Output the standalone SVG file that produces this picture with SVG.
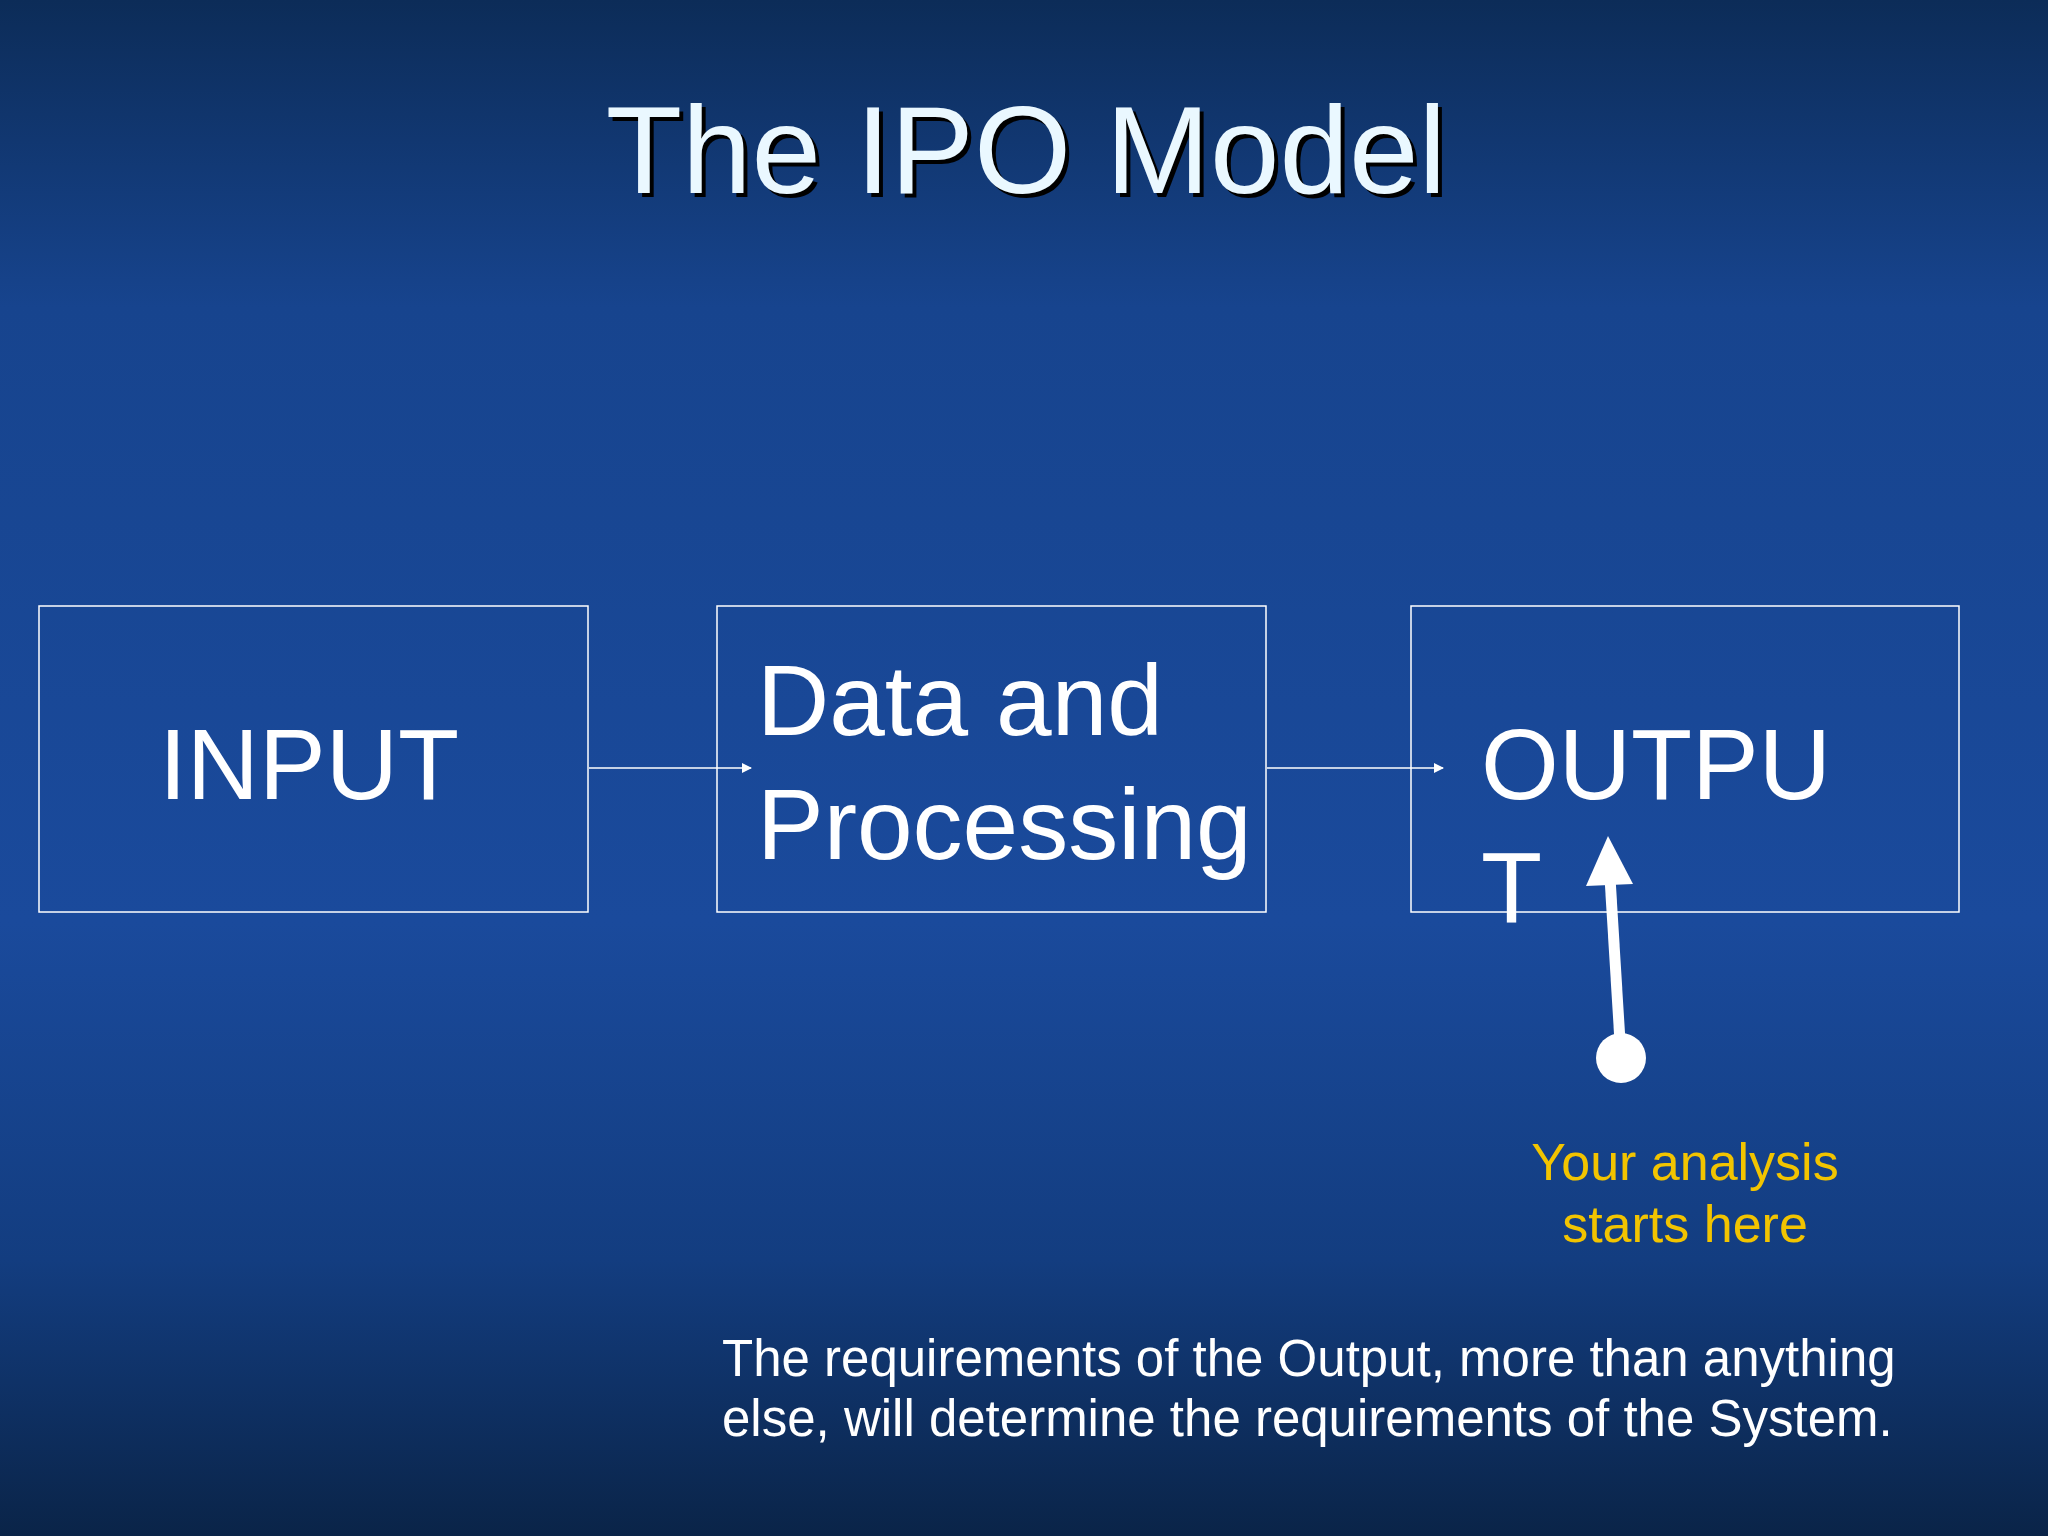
<svg xmlns="http://www.w3.org/2000/svg" width="2048" height="1536" viewBox="0 0 2048 1536">
<defs>
<linearGradient id="bg" x1="0" y1="0" x2="0" y2="1">
<stop offset="0" stop-color="#0c2c58"/>
<stop offset="0.2" stop-color="#17448e"/>
<stop offset="0.6" stop-color="#1a4a9c"/>
<stop offset="0.82" stop-color="#133d80"/>
<stop offset="1" stop-color="#0a2448"/>
</linearGradient>
<marker id="ah" viewBox="0 0 10 10" refX="9" refY="5" markerWidth="10" markerHeight="10" markerUnits="userSpaceOnUse" orient="auto"><path d="M0,0 L10,5 L0,10 z" fill="#fff"/></marker>
<style>
.box{fill:none;stroke:#fff;stroke-width:1.5}
.t{font-family:"Liberation Sans",Arial,sans-serif;fill:#fff}
</style>
</defs>
<rect width="2048" height="1536" fill="url(#bg)"/>
<text x="1030" y="197" text-anchor="middle" class="t" font-size="125" style="fill:#000">The IPO Model</text>
<text x="1026" y="193" text-anchor="middle" class="t" font-size="125" style="fill:#eaf8ff">The IPO Model</text>
<g id="input"><rect class="box" x="39" y="606" width="549" height="306"/><text class="t" x="159" y="799" font-size="100">INPUT</text></g>
<g id="process"><rect class="box" x="717" y="606" width="549" height="306"/><text class="t" x="757" y="735" font-size="100">Data and</text><text class="t" x="757" y="859" font-size="100">Processing</text></g>
<g id="output"><rect class="box" x="1411" y="606" width="548" height="306"/><text class="t" x="1481" y="799" font-size="100">OUTPU</text><text class="t" x="1481" y="922" font-size="100">T</text></g>
<g id="connectors">
<line x1="589" y1="768" x2="751" y2="768" stroke="#fff" stroke-width="1.5" marker-end="url(#ah)"/>
<line x1="1267" y1="768" x2="1443" y2="768" stroke="#fff" stroke-width="1.5" marker-end="url(#ah)"/>
<line x1="1621" y1="1058" x2="1610" y2="878" stroke="#fff" stroke-width="11"/>
<path d="M1608,836 L1633,884 L1586,886 z" fill="#fff"/>
<circle cx="1621" cy="1058" r="25" fill="#fff"/>
</g>
<g id="note"><text class="t" x="1685" y="1180" font-size="52" text-anchor="middle" style="fill:#f2c400">Your analysis</text><text class="t" x="1685" y="1242" font-size="52" text-anchor="middle" style="fill:#f2c400">starts here</text></g>
<g id="footer"><text class="t" x="722" y="1376" font-size="51">The requirements of the Output, more than anything</text><text class="t" x="722" y="1436" font-size="51">else, will determine the requirements of the System.</text></g>
</svg>
